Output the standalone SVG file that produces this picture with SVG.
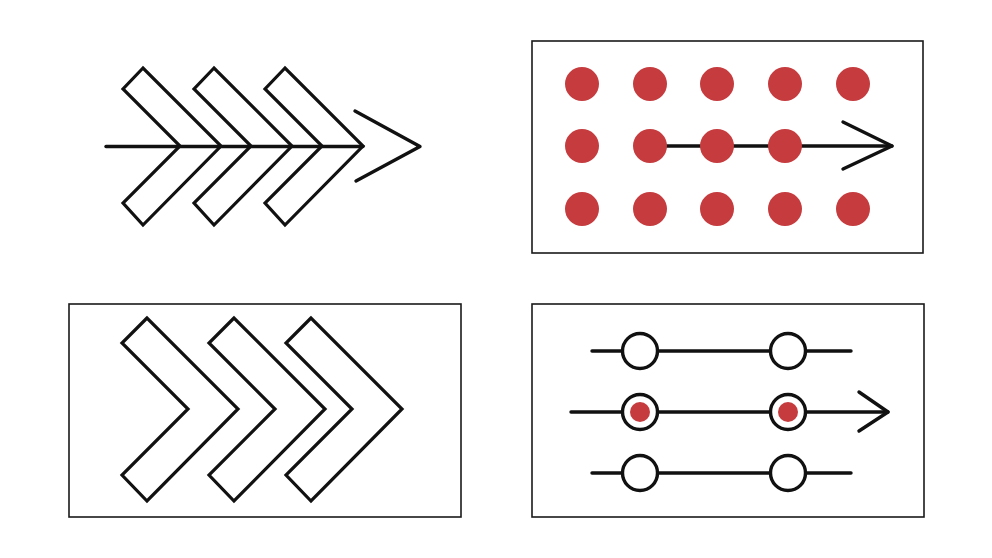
<svg xmlns="http://www.w3.org/2000/svg" width="992" height="558" viewBox="0 0 992 558">
  <style>
    .frame { fill: none; stroke: #1a1a1a; stroke-width: 1.6; }
    .chev { fill: #ffffff; stroke: #111111; stroke-width: 3.2; stroke-linejoin: miter; }
    .ln { fill: none; stroke: #111111; stroke-width: 3.4; stroke-linecap: round; stroke-linejoin: round; }
    .dot { fill: #c53b3e; }
    .ring { fill: #ffffff; stroke: #111111; stroke-width: 3.4; }
  </style>
  <defs>
    <path id="chevTop" d="M0,0 L-20,21 L37,78 L-20,135 L0,157 L78,78 Z"/>
    <path id="chevBot" d="M0,0 L-25,25 L41,91 L-25,157 L0,183 L91,91 Z"/>
  </defs>
  <rect width="992" height="558" fill="#ffffff"/>

  <g id="panel-top-left">
    <g id="tl-chevrons">
      <use href="#chevTop" class="chev" x="143" y="68"/>
      <use href="#chevTop" class="chev" x="214" y="68"/>
      <use href="#chevTop" class="chev" x="285" y="68"/>
    </g>
    <g id="tl-connectors">
      <line class="ln" x1="106" y1="146.5" x2="363" y2="146.5"/>
      <polyline class="ln" points="355,111 420,146.5 356,181"/>
    </g>
  </g>

  <g id="panel-top-right">
    <rect class="frame" x="532" y="41" width="391" height="212"/>
    <g id="tr-connectors">
      <line class="ln" x1="650" y1="146" x2="892" y2="146"/>
      <polyline class="ln" points="843,122 892,146 843,169"/>
    </g>
    <g id="tr-dots">
      <circle class="dot" cx="582" cy="84" r="17"/>
      <circle class="dot" cx="650" cy="84" r="17"/>
      <circle class="dot" cx="717" cy="84" r="17"/>
      <circle class="dot" cx="785" cy="84" r="17"/>
      <circle class="dot" cx="853" cy="84" r="17"/>
      <circle class="dot" cx="582" cy="146" r="17"/>
      <circle class="dot" cx="650" cy="146" r="17"/>
      <circle class="dot" cx="717" cy="146" r="17"/>
      <circle class="dot" cx="785" cy="146" r="17"/>
      <circle class="dot" cx="582" cy="209" r="17"/>
      <circle class="dot" cx="650" cy="209" r="17"/>
      <circle class="dot" cx="717" cy="209" r="17"/>
      <circle class="dot" cx="785" cy="209" r="17"/>
      <circle class="dot" cx="853" cy="209" r="17"/>
    </g>
  </g>

  <g id="panel-bottom-left">
    <rect class="frame" x="69" y="304" width="392" height="213"/>
    <g id="bl-chevrons">
      <use href="#chevBot" class="chev" x="147" y="318"/>
      <use href="#chevBot" class="chev" x="234" y="318"/>
      <use href="#chevBot" class="chev" x="311" y="318"/>
    </g>
  </g>

  <g id="panel-bottom-right">
    <rect class="frame" x="532" y="304" width="392" height="213"/>
    <g id="br-connectors">
      <line class="ln" x1="592" y1="351" x2="851" y2="351"/>
      <line class="ln" x1="571" y1="412" x2="888" y2="412"/>
      <polyline class="ln" points="859,392 888,412 859,431"/>
      <line class="ln" x1="592" y1="473" x2="851" y2="473"/>
    </g>
    <g id="br-nodes">
      <circle class="ring" cx="640" cy="351" r="17.5"/>
      <circle class="ring" cx="788" cy="351" r="17.5"/>
      <circle class="ring" cx="640" cy="412" r="17.5"/>
      <circle class="dot" cx="640" cy="412" r="10"/>
      <circle class="ring" cx="788" cy="412" r="17.5"/>
      <circle class="dot" cx="788" cy="412" r="10"/>
      <circle class="ring" cx="640" cy="473" r="17.5"/>
      <circle class="ring" cx="788" cy="473" r="17.5"/>
    </g>
  </g>
</svg>
